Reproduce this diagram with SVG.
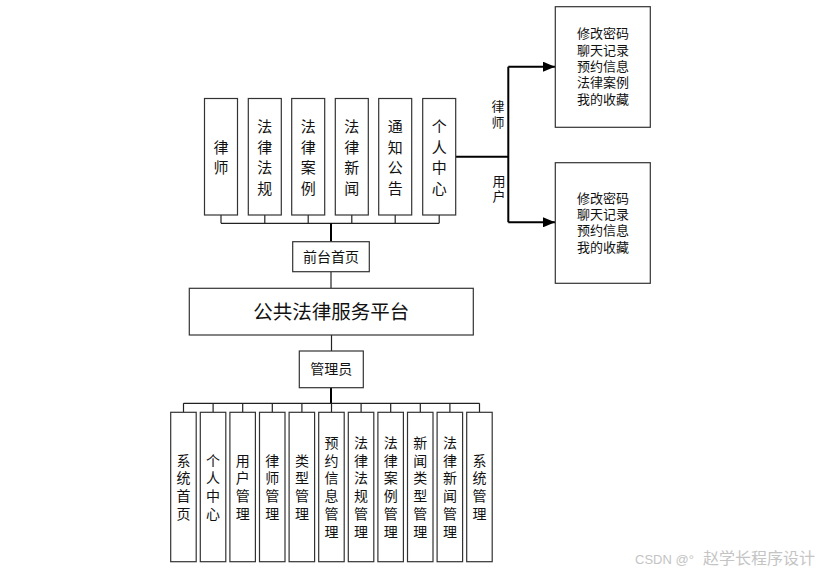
<svg xmlns="http://www.w3.org/2000/svg" width="827" height="575" viewBox="0 0 827 575">
<style>
.box{fill:#fff;stroke:#333;stroke-width:1.2}
.t{font-family:"Liberation Sans","Noto Sans CJK SC",sans-serif;fill:#111;text-anchor:middle;dominant-baseline:central}
.thin{stroke:#222;stroke-width:1.2;fill:none}
.thick{stroke:#000;stroke-width:2;fill:none}
</style>
<defs>
<marker id="arr" viewBox="0 0 12 10" refX="12" refY="5" markerWidth="12" markerHeight="10" markerUnits="userSpaceOnUse" orient="auto">
<path d="M0,0 L12,5 L0,10 Z" fill="#000"/>
</marker>
</defs>
<rect width="827" height="575" fill="#fff"/>
<g id="connectors">
<path class="thin" d="M221,215 V223.3 M264.8,215 V223.3 M308.2,215 V223.3 M351.8,215 V223.3 M395.2,215 V223.3 M439.2,215 V223.3 M221,223.3 H439.2"/>
<path class="thick" d="M331,223.3 V241.7"/>
<path class="thin" d="M331,271.7 V288.3"/>
<path class="thin" d="M331.5,335 V351"/>
<path class="thick" d="M331,387.7 V403.3"/>
<path class="thin" d="M183.5,403.3 H479.5 M183.5,403.3 V412.3 M213.1,403.3 V412.3 M242.7,403.3 V412.3 M272.3,403.3 V412.3 M301.9,403.3 V412.3 M331.5,403.3 V412.3 M361.1,403.3 V412.3 M390.7,403.3 V412.3 M420.3,403.3 V412.3 M449.9,403.3 V412.3 M479.5,403.3 V412.3"/>
<path class="thick" d="M455.7,156.7 H508.3 M508.3,66.7 V222.3"/>
<path class="thick" d="M508.3,66.7 H555" marker-end="url(#arr)"/>
<path class="thick" d="M508.3,222.3 H555" marker-end="url(#arr)"/>
<text class="t" font-size="13" x="498" y="106">律</text>
<text class="t" font-size="13" x="498" y="122">师</text>
<text class="t" font-size="13" x="499" y="181.5">用</text>
<text class="t" font-size="13" x="499" y="196">户</text>
</g>
<g id="top-nodes">
<g id="n-lvshi"><rect class="box" x="204.5" y="98.5" width="33" height="116.5"/>
<text class="t" font-size="15" x="221"><tspan x="221" y="146.5">律</tspan><tspan x="221" y="167">师</tspan></text></g>
<g id="n-falvfagui"><rect class="box" x="248.3" y="98.5" width="33" height="116.5"/>
<text class="t" font-size="15"><tspan x="264.8" y="126">法</tspan><tspan x="264.8" y="146.5">律</tspan><tspan x="264.8" y="167">法</tspan><tspan x="264.8" y="187.5">规</tspan></text></g>
<g id="n-falvanli"><rect class="box" x="291.7" y="98.5" width="33" height="116.5"/>
<text class="t" font-size="15"><tspan x="308.2" y="126">法</tspan><tspan x="308.2" y="146.5">律</tspan><tspan x="308.2" y="167">案</tspan><tspan x="308.2" y="187.5">例</tspan></text></g>
<g id="n-falvxinwen"><rect class="box" x="335.3" y="98.5" width="33" height="116.5"/>
<text class="t" font-size="15"><tspan x="351.8" y="126">法</tspan><tspan x="351.8" y="146.5">律</tspan><tspan x="351.8" y="167">新</tspan><tspan x="351.8" y="187.5">闻</tspan></text></g>
<g id="n-tongzhi"><rect class="box" x="378.7" y="98.5" width="33" height="116.5"/>
<text class="t" font-size="15"><tspan x="395.2" y="126">通</tspan><tspan x="395.2" y="146.5">知</tspan><tspan x="395.2" y="167">公</tspan><tspan x="395.2" y="187.5">告</tspan></text></g>
<g id="n-geren"><rect class="box" x="422.7" y="98.5" width="33" height="116.5"/>
<text class="t" font-size="15"><tspan x="439.2" y="126">个</tspan><tspan x="439.2" y="146.5">人</tspan><tspan x="439.2" y="167">中</tspan><tspan x="439.2" y="187.5">心</tspan></text></g>
</g>
<g id="n-lawyer-menu"><rect class="box" x="555.3" y="6.7" width="95" height="120.6"/>
<text class="t" font-size="13"><tspan x="603" y="33.3">修改密码</tspan><tspan x="603" y="50">聊天记录</tspan><tspan x="603" y="66.3">预约信息</tspan><tspan x="603" y="82.3">法律案例</tspan><tspan x="603" y="99">我的收藏</tspan></text></g>
<g id="n-user-menu"><rect class="box" x="555.3" y="162.7" width="95" height="120.6"/>
<text class="t" font-size="13"><tspan x="603" y="198.3">修改密码</tspan><tspan x="603" y="214.3">聊天记录</tspan><tspan x="603" y="230.3">预约信息</tspan><tspan x="603" y="247.3">我的收藏</tspan></text></g>
<g id="n-qiantai"><rect class="box" x="292.7" y="241.7" width="76.6" height="30"/>
<text class="t" font-size="14" x="331" y="256.7">前台首页</text></g>
<g id="n-platform"><rect class="box" x="189.3" y="288.3" width="284" height="46.7"/>
<text class="t" font-size="19.5" x="331.3" y="311.7">公共法律服务平台</text></g>
<g id="n-admin"><rect class="box" x="299.3" y="351" width="64" height="36.7"/>
<text class="t" font-size="14" x="331.3" y="369.3">管理员</text></g>
<g id="bottom-nodes">
<g id="b1"><rect class="box" x="170.7" y="412.3" width="25.5" height="149.4"/>
<text class="t" font-size="14"><tspan x="183.5" y="460.5">系</tspan><tspan x="183.5" y="478.2">统</tspan><tspan x="183.5" y="495.9">首</tspan><tspan x="183.5" y="513.6">页</tspan></text></g>
<g id="b2"><rect class="box" x="200.3" y="412.3" width="25.5" height="149.4"/>
<text class="t" font-size="14"><tspan x="213.1" y="460.5">个</tspan><tspan x="213.1" y="478.2">人</tspan><tspan x="213.1" y="495.9">中</tspan><tspan x="213.1" y="513.6">心</tspan></text></g>
<g id="b3"><rect class="box" x="229.9" y="412.3" width="25.5" height="149.4"/>
<text class="t" font-size="14"><tspan x="242.7" y="460.5">用</tspan><tspan x="242.7" y="478.2">户</tspan><tspan x="242.7" y="495.9">管</tspan><tspan x="242.7" y="513.6">理</tspan></text></g>
<g id="b4"><rect class="box" x="259.5" y="412.3" width="25.5" height="149.4"/>
<text class="t" font-size="14"><tspan x="272.3" y="460.5">律</tspan><tspan x="272.3" y="478.2">师</tspan><tspan x="272.3" y="495.9">管</tspan><tspan x="272.3" y="513.6">理</tspan></text></g>
<g id="b5"><rect class="box" x="289.1" y="412.3" width="25.5" height="149.4"/>
<text class="t" font-size="14"><tspan x="301.9" y="460.5">类</tspan><tspan x="301.9" y="478.2">型</tspan><tspan x="301.9" y="495.9">管</tspan><tspan x="301.9" y="513.6">理</tspan></text></g>
<g id="b6"><rect class="box" x="318.7" y="412.3" width="25.5" height="149.4"/>
<text class="t" font-size="14"><tspan x="331.5" y="443">预</tspan><tspan x="331.5" y="460.7">约</tspan><tspan x="331.5" y="478.4">信</tspan><tspan x="331.5" y="496.1">息</tspan><tspan x="331.5" y="513.8">管</tspan><tspan x="331.5" y="531.5">理</tspan></text></g>
<g id="b7"><rect class="box" x="348.3" y="412.3" width="25.5" height="149.4"/>
<text class="t" font-size="14"><tspan x="361.1" y="443">法</tspan><tspan x="361.1" y="460.7">律</tspan><tspan x="361.1" y="478.4">法</tspan><tspan x="361.1" y="496.1">规</tspan><tspan x="361.1" y="513.8">管</tspan><tspan x="361.1" y="531.5">理</tspan></text></g>
<g id="b8"><rect class="box" x="377.9" y="412.3" width="25.5" height="149.4"/>
<text class="t" font-size="14"><tspan x="390.7" y="443">法</tspan><tspan x="390.7" y="460.7">律</tspan><tspan x="390.7" y="478.4">案</tspan><tspan x="390.7" y="496.1">例</tspan><tspan x="390.7" y="513.8">管</tspan><tspan x="390.7" y="531.5">理</tspan></text></g>
<g id="b9"><rect class="box" x="407.5" y="412.3" width="25.5" height="149.4"/>
<text class="t" font-size="14"><tspan x="420.3" y="443">新</tspan><tspan x="420.3" y="460.7">闻</tspan><tspan x="420.3" y="478.4">类</tspan><tspan x="420.3" y="496.1">型</tspan><tspan x="420.3" y="513.8">管</tspan><tspan x="420.3" y="531.5">理</tspan></text></g>
<g id="b10"><rect class="box" x="437.1" y="412.3" width="25.5" height="149.4"/>
<text class="t" font-size="14"><tspan x="449.9" y="443">法</tspan><tspan x="449.9" y="460.7">律</tspan><tspan x="449.9" y="478.4">新</tspan><tspan x="449.9" y="496.1">闻</tspan><tspan x="449.9" y="513.8">管</tspan><tspan x="449.9" y="531.5">理</tspan></text></g>
<g id="b11"><rect class="box" x="466.7" y="412.3" width="25.5" height="149.4"/>
<text class="t" font-size="14"><tspan x="479.5" y="460.5">系</tspan><tspan x="479.5" y="478.2">统</tspan><tspan x="479.5" y="495.9">管</tspan><tspan x="479.5" y="513.6">理</tspan></text></g>
</g>
<text font-family="Liberation Sans,'Noto Sans CJK SC',sans-serif" fill="#c4c4c4" y="564"><tspan x="635" font-size="13">CSDN @°</tspan><tspan x="703" font-size="16">赵学长程序设计</tspan></text>
</svg>
